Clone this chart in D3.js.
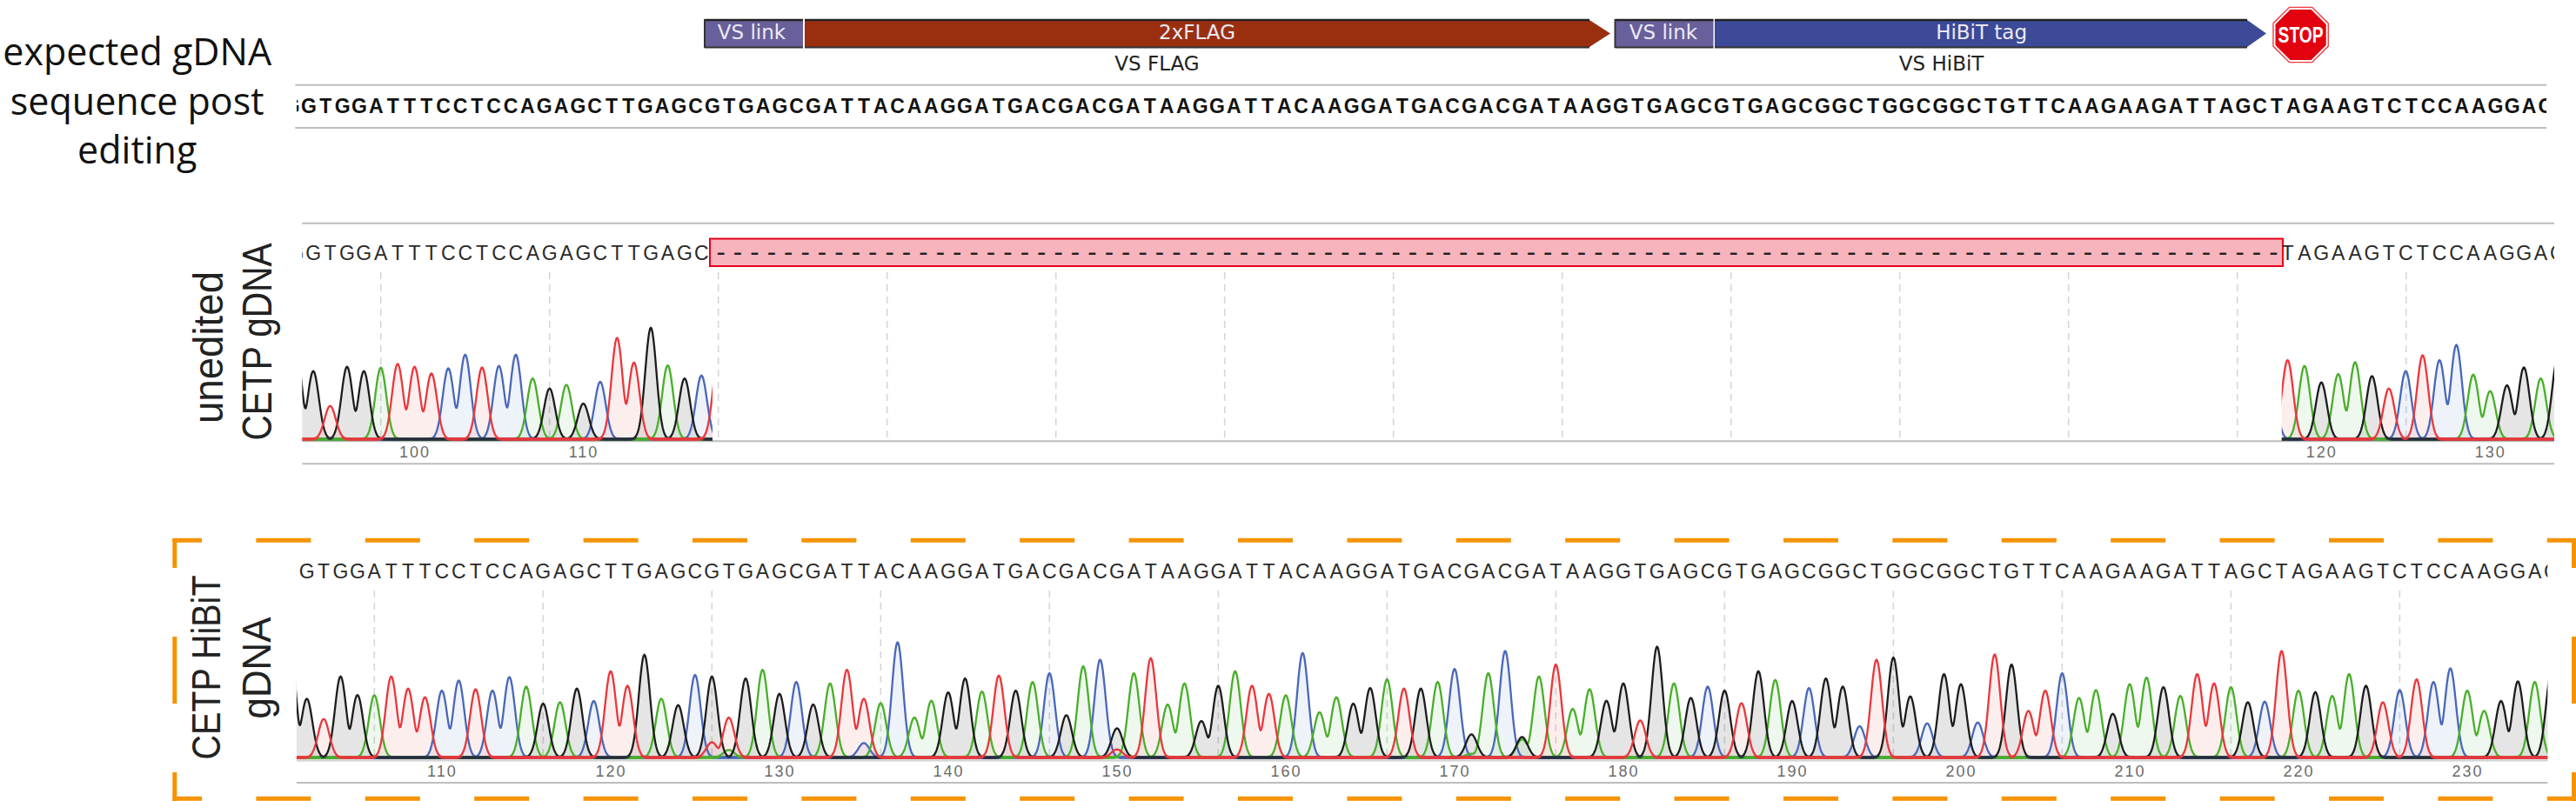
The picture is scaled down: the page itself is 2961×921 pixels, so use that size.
<!DOCTYPE html>
<html><head><meta charset="utf-8">
<script src="https://cdn.jsdelivr.net/npm/d3@7/dist/d3.min.js"></script>
<style>html,body{margin:0;padding:0;background:#fff;overflow:hidden}svg{display:block}</style>
</head><body><svg id="c" width="2961" height="921"></svg>
<script>
// ---------- data ----------
const expectedSeq = "GGTGGATTTCCTCCAGAGCTTGAGCGTGAGCGATTACAAGGATGACGACGATAAGGATTACAAGGATGACGACGATAAGGTGAGCGTGAGCGGCTGGCGGCTGTTCAAGAAGATTAGCTAGAAGTCTCCAAGGAG";
const expectedStart = 101;
const hibitSeq = expectedSeq;
const hibitStart = 101;
const hibitPeaks = [400,203,133,280,216,215,280,238,208,231,266,236,231,278,245,186,191,238,195,298,248,355,203,181,285,280,138,273,303,220,261,183,256,303,203,188,398,138,196,225,273,228,283,231,261,291,146,315,338,101,291,343,183,256,126,248,298,248,220,215,361,156,208,186,240,270,238,238,261,306,80,291,368,71,280,321,168,236,196,256,128,383,256,206,245,231,188,298,268,195,240,273,245,108,338,345,211,118,288,253,121,356,321,161,231,291,206,233,151,253,276,243,213,288,256,243,191,193,368,231,226,213,288,248,191,233,270,261,308,231,161,195,263,261,300];
const hibitMinorBases = ["T","A","C","T","A","A"];
const hibitMinorPos = [126,127,135,150,171,174];
const hibitMinorPeaks = [53,26,50,28,13,63];
const hibitTicks = [110,120,130,140,150,160,170,180,190,200,210,220,230];
const hibitGrid = [106,116,126,136,146,156,166,176,186,196,206,216,226];

const uneditedLeftSeq = "GGTGGATTTCCTCCAGAGCTTGAGCT";
const uneditedLeftStart = 93;
const uneditedLeftPeaks = [300,235,115,250,235,247,260,250,227,245,292,248,253,292,210,175,188,123,198,350,265,385,255,210,220,275];
const uneditedGapText = "-".repeat(93);
const uneditedRightSeq = "CTAGAAGTCTCCAAGGAG";
const uneditedRightStart = 117;
const uneditedRightPeaks = [220,273,253,196,225,266,218,175,235,290,273,326,223,166,186,248,210,280];
const uneditedLeftTicks = [100,110];
const uneditedRightTicks = [120,130];
const uneditedGrid = [98,108,118,128,138,148,158,168,178,188,198,208,218];

const rowLabels = ["expected gDNA","sequence post","editing"];
const featureNames = ["VS link","2xFLAG","VS link","HiBiT tag"];
const annotationNames = ["VS FLAG","VS HiBiT"];

const baseColor = {G:"#1f1f1f",A:"#4aae2a",T:"#e8383c",C:"#4a67b9"};
const drawOrder = ["C","A","G","T"];
const svg = d3.select("#c");
const SANS = "'Liberation Sans',Arial,sans-serif";
const defs = svg.append("defs");
defs.append("filter").attr("id","soft").attr("x","-1%").attr("y","-5%").attr("width","102%").attr("height","110%")
    .append("feGaussianBlur").attr("stdDeviation",0.55);
let clipN = 0;
function clip(x0,x1,y0,y1){const id="clip"+(++clipN);
  defs.append("clipPath").attr("id",id).append("rect").attr("x",x0).attr("y",y0).attr("width",x1-x0).attr("height",y1-y0);
  return "url(#"+id+")";}

const SIGMA = 0.33, POWER = 3;
function traceFor(base,seq,start,peaks,minorB,minorP,minorH,from,to){
  const list=[];
  for(let i=0;i<seq.length;i++) if(seq[i]===base) list.push([start+i,peaks[i]]);
  (minorB||[]).forEach((b,i)=>{if(b===base) list.push([minorP[i],minorH[i]]);});
  return d3.range(from,to+0.001,0.05).map(p=>({p,v:Math.pow(d3.sum(list,d=>Math.pow(d[1]*Math.exp(-0.5*Math.pow((p-d[0])/SIGMA,2)),POWER)),1/POWER)}));
}
function drawTrace(g,x,y,seq,start,peaks,mB,mP,mH){
  const from=start-1.5,to=start+seq.length+0.5;
  const a=d3.area().x(d=>x(d.p)).y0(y(0)).y1(d=>y(d.v));
  const l=d3.line().x(d=>x(d.p)).y(d=>y(d.v));
  const inner=g.append("g").attr("filter","url(#soft)");
  const stripClip=clip(0,2961,y(0)-2.2,y(0)+2.6);
  drawOrder.forEach(b=>{
    const t=traceFor(b,seq,start,peaks,mB,mP,mH,from,to);
    inner.append("path").attr("d",a(t)).attr("fill",baseColor[b]).attr("fill-opacity",b==="G"?0.1:0.085);
  });
  drawOrder.forEach(b=>{
    const t=traceFor(b,seq,start,peaks,mB,mP,mH,from,to);
    inner.append("path").attr("d",l(t)).attr("fill","none").attr("stroke",baseColor[b]).attr("stroke-width",2.3).attr("stroke-linejoin","round");
    inner.append("g").attr("clip-path",stripClip).append("path").attr("d",l(t)).attr("fill","none")
      .attr("stroke",b==="G"?"#2a3344":baseColor[b]).attr("stroke-width",4.2).attr("stroke-opacity",0.82);
  });
}
function drawLetters(g,x,y,seq,start,opts){
  g.selectAll(null).data(Array.from(seq)).join("text")
   .attr("x",(d,i)=>x(start+i)).attr("y",y).attr("text-anchor","middle")
   .attr("font-family",SANS).attr("font-size",opts.size).attr("font-weight",opts.weight||"normal")
   .attr("fill",opts.fill).text(d=>d);
}
function hline(y,x0,x1,c,w){svg.append("line").attr("x1",x0).attr("x2",x1).attr("y1",y).attr("y2",y).attr("stroke",c||"#bdbdbd").attr("stroke-width",w||2);}
function drawAxis(x,ticks,y){
  const ax=d3.axisBottom(x).tickValues(ticks).tickSize(0).tickPadding(0).tickFormat(d3.format("d"));
  const g=svg.append("g").attr("transform","translate(0,"+y+")").call(ax);
  g.select(".domain").remove();
  g.selectAll("text").attr("font-family",SANS).attr("font-size",18).attr("letter-spacing",2).attr("fill","#6b6b6b").attr("dy",0).attr("y",0);
}
function drawGrid(x,vals,y0,y1){
  svg.append("g").selectAll("line").data(vals).join("line")
    .attr("x1",d=>x(d)).attr("x2",d=>x(d)).attr("y1",y0).attr("y2",y1)
    .attr("stroke","#d6d6d6").attr("stroke-width",1.6).attr("stroke-dasharray","8 6");
}

// ---------- top feature track ----------
const topRow = svg.append("g");
function feature(x0,x1,tip,fill,label,cx){
  const d=d3.path();d.moveTo(x0,23);d.lineTo(x1,23);
  if(tip){d.lineTo(tip,38.5);d.lineTo(x1,54);} else d.lineTo(x1,54);
  d.lineTo(x0,54);d.closePath();
  topRow.append("path").attr("d",d).attr("fill",fill);
  topRow.append("line").attr("x1",x0).attr("x2",x1).attr("y1",23).attr("y2",23).attr("stroke","#222").attr("stroke-width",2.4);
  topRow.append("line").attr("x1",x0).attr("x2",x1).attr("y1",54.5).attr("y2",54.5).attr("stroke","#333").attr("stroke-width",2.2);
  topRow.append("text").attr("x",cx).attr("y",45).attr("text-anchor","middle").attr("font-family","'DejaVu Sans',sans-serif").attr("font-size",23).attr("fill","#ece9f4").text(label);
}
feature(810,923,null,"#68609a",featureNames[0],864);
feature(925,1827,1851,"#9a2f0f",featureNames[1],1376);
feature(1856.5,1969.5,null,"#68609a",featureNames[2],1912);
feature(1971,2583,2605,"#3c4a98",featureNames[3],2277.6);
topRow.append("line").attr("x1",810).attr("x2",810).attr("y1",22).attr("y2",55).attr("stroke","#333").attr("stroke-width",2);
topRow.append("line").attr("x1",1856.5).attr("x2",1856.5).attr("y1",22).attr("y2",55).attr("stroke","#333").attr("stroke-width",2);
[[1330,annotationNames[0]],[2231.6,annotationNames[1]]].forEach(a=>{
  topRow.append("text").attr("x",a[0]).attr("y",81).attr("text-anchor","middle").attr("font-family","'DejaVu Sans',sans-serif").attr("font-size",23).attr("fill","#222").text(a[1]);
});
// STOP sign
const oct=(r)=>d3.range(8).map(i=>{const an=Math.PI/8+i*Math.PI/4;return [2644.6+r*Math.cos(an),40+r*Math.sin(an)];});
topRow.append("polygon").attr("points",oct(35).join(" ")).attr("fill","#ee3a3f");
topRow.append("polygon").attr("points",oct(33.5).join(" ")).attr("fill","#fff");
topRow.append("polygon").attr("points",oct(31.5).join(" ")).attr("fill","#e3000f");
topRow.append("text").attr("x",2644.6).attr("y",49).attr("text-anchor","middle").attr("font-family",SANS).attr("font-weight","bold").attr("font-size",25).attr("fill","#fff")
  .attr("textLength",52).attr("lengthAdjust","spacingAndGlyphs").text("STOP");

// ---------- row labels ----------
svg.append("g").selectAll("text").data(rowLabels).join("text")
  .attr("x",157.7).attr("y",(d,i)=>[75,132,188][i]).attr("text-anchor","middle")
  .attr("font-family","'Open Sans',sans-serif").attr("font-size",43).attr("fill","#111").text(d=>d);
function vlabel(t,xb,cy,len,size){
  svg.append("text").attr("transform","translate("+xb+","+cy+") rotate(-90)").attr("text-anchor","middle")
   .attr("font-family",SANS).attr("font-size",size).attr("fill","#222")
   .attr("textLength",len).attr("lengthAdjust","spacingAndGlyphs").text(t);
}
vlabel("unedited",256,399.5,175,48);
vlabel("CETP gDNA",311.6,393,227,48);
vlabel("CETP HiBiT",253.4,767.5,212,47);
vlabel("gDNA",310.5,768,117,47);

// ---------- expected sequence ----------
hline(97.7,339.3,2927);hline(147,339.3,2927);
const x1 = d3.scaleLinear().domain([102,234]).range([355,2907]);
const gExp = svg.append("g").attr("clip-path",clip(341,2927,90,150));
drawLetters(gExp,x1,130,expectedSeq,expectedStart,{size:23,weight:"bold",fill:"#111"});

// ---------- unedited panel ----------
hline(256.7,347.3,2936);hline(507.3,347.3,2936);hline(533.3,347.3,2936);
const xU = d3.scaleLinear().domain([100,110]).range([476.5,670.5]);
const xUR = d3.scaleLinear().domain([120,130]).range([2668.3,2862.3]);
const yU = d3.scaleLinear().domain([0,400]).range([505,505-133.3]);
drawGrid(xU,uneditedGrid,313,505);
const gUL = svg.append("g").attr("clip-path",clip(347.3,819,300,510));
drawTrace(gUL,xU,yU,uneditedLeftSeq,uneditedLeftStart,uneditedLeftPeaks);
const gUR = svg.append("g").attr("clip-path",clip(2622.7,2936,300,510));
drawTrace(gUR,xUR,yU,uneditedRightSeq,uneditedRightStart,uneditedRightPeaks);
svg.append("rect").attr("x",816).attr("y",274.5).attr("width",1808).attr("height",31.5).attr("fill","#f8b4bd").attr("stroke","#e8001c").attr("stroke-width",2);
const gUT = svg.append("g").attr("clip-path",clip(347.3,2936,260,310));
drawLetters(gUT,xU,299,uneditedLeftSeq.slice(0,-1),uneditedLeftStart,{size:23,fill:"#2a2a2a"});
drawLetters(gUT,xU,300,uneditedGapText,118.15,{size:31,fill:"#222"});
drawLetters(gUT,xUR,299,uneditedRightSeq.slice(1),uneditedRightStart+1,{size:23,fill:"#2a2a2a"});
drawAxis(xU,uneditedLeftTicks,526);
drawAxis(xUR,uneditedRightTicks,526);

// ---------- HiBiT panel ----------
const xH = d3.scaleLinear().domain([110,230]).range([507.9,2836]);
const yH = d3.scaleLinear().domain([0,400]).range([871,871-133.3]);
hline(874.5,340.9,2928.4,"#cfcfcf",2);hline(900,340.9,2928.4);
drawGrid(xH,hibitGrid,679,873);
const gHT = svg.append("g").attr("clip-path",clip(340.9,2928.4,640,675));
drawLetters(gHT,xH,665,hibitSeq,hibitStart,{size:23,fill:"#2a2a2a"});
const gHP = svg.append("g").attr("clip-path",clip(340.9,2928.4,680,876));
drawTrace(gHP,xH,yH,hibitSeq,hibitStart,hibitPeaks,hibitMinorBases,hibitMinorPos,hibitMinorPeaks);
drawAxis(xH,hibitTicks,893);

// ---------- orange dashed box ----------
const ORANGE="#f59300";
function dash(x0,y0,x1,y1,arr,off){svg.append("line").attr("x1",x0).attr("y1",y0).attr("x2",x1).attr("y2",y1).attr("stroke",ORANGE).attr("stroke-width",5).attr("stroke-dasharray",arr).attr("stroke-dashoffset",off);}
dash(198.5,621.3,2961,621.3,"63 62.4",29.5);
dash(198.5,918.3,2961,918.3,"63 62.4",29.5);
dash(200.8,619,200.8,921,"77 79",43);
dash(2958.5,619,2958.5,921,"77 79",43);
</script></body></html>
